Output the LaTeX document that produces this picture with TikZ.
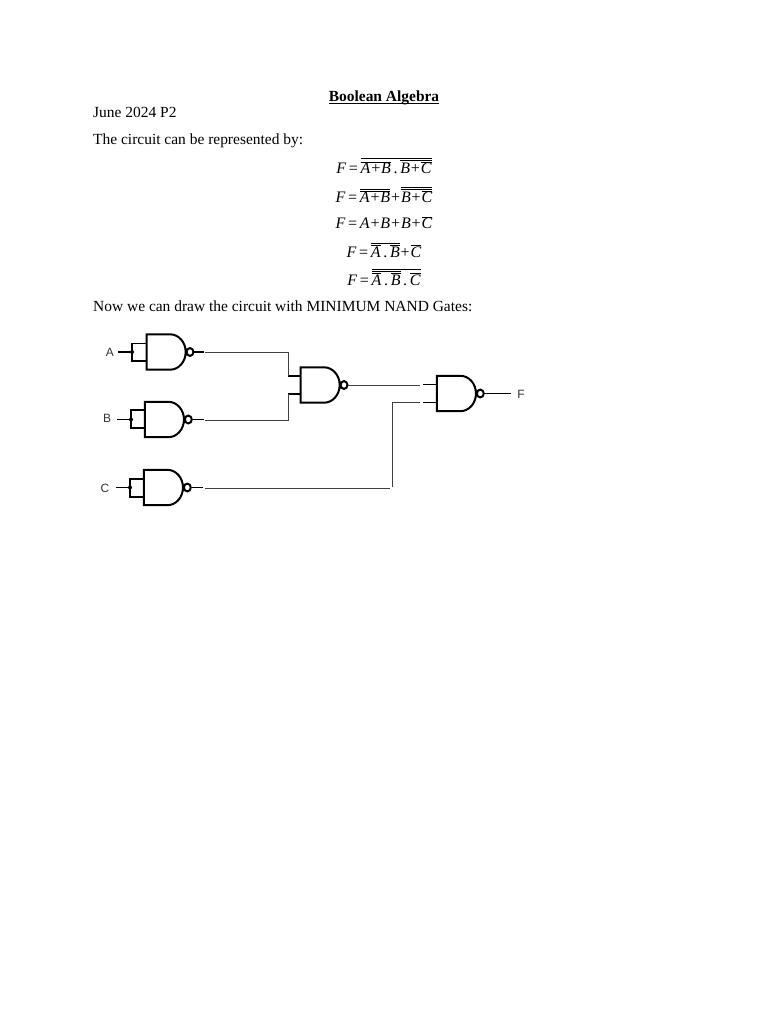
\documentclass[tikz,border=0pt]{standalone}
\usepackage{fontspec}
\setmainfont{Liberation Serif}
\newfontfamily\labelfont{Liberation Sans}
\usetikzlibrary{shapes.gates.logic.US}
\def\nandgate{\node[nand gate US,draw,line width=2pt,logic gate inputs=nn,inner sep=0pt,minimum height=34.5pt,logic gate inverted radius=3.9pt,transform shape,xscale=0.885]}
\def\txt{\node[inner sep=0pt,font=\fontsize{15.46}{18}\selectfont]}
\def\eqn{\node[inner sep=0pt,anchor=base,font=\fontsize{16}{18}\selectfont]}
\def\letter{\node[inner sep=0pt,font=\labelfont\fontsize{12}{14}\selectfont,text=black!80]}
\tikzset{dot/.style={circle,fill=black,inner sep=0pt,minimum size=4pt},
gateline/.style={line width=1.5pt},wire/.style={line width=1pt,black!75}}
\newcommand{\ol}[1]{$\overline{\mbox{#1}}$}
\newcommand{\vr}[1]{\textit{#1}}
\newcommand{\pl}{\kern0.9pt+\kern0.9pt}
\begin{document}
\begin{tikzpicture}[x=1pt,y=-1pt,auto]
\useasboundingbox (0,0) rectangle (768,1024);
\txt[anchor=base] (title) at (384,101.5) {$\underline{\smash{\mbox{\textbf{Boolean Algebra}}}}$};
\txt[anchor=base west] (paper) at (93,117.5) {June 2024 P2};
\txt[anchor=base west] (intro) at (93,144.5) {The circuit can be represented by:};
\eqn (eq1) at (384,174) {\vr{F}\,=\,\ol{\ol{\vr{A}\pl\vr{B}}\,.\,\ol{\vr{B}\pl\ol{\vr{C}}}}};
\eqn (eq2) at (384,203) {\vr{F}\,=\,\ol{\ol{\vr{A}\pl\vr{B}}}\pl\ol{\ol{\vr{B}\pl\ol{\vr{C}}}}};
\eqn (eq3) at (384,229) {\vr{F}\,=\,\vr{A}\pl\vr{B}\pl\vr{B}\pl\ol{\vr{C}}};
\eqn (eq4) at (384,257) {\vr{F}\,=\,\ol{\ol{\vr{A}}\,.\,\ol{\vr{B}}}\pl\ol{\vr{C}}};
\eqn (eq5) at (384,285) {\vr{F}\,=\,\ol{\ol{\ol{\vr{A}}\,.\,\ol{\vr{B}}}\,.\,\ol{\vr{C}}}};
\txt[anchor=base west] (now) at (93,311.5) {Now we can draw the circuit with MINIMUM NAND Gates:};
\nandgate (gA) at (164.8,352) {};
\nandgate (gB) at (163.1,419.5) {};
\nandgate (gC) at (162.1,487.5) {};
\nandgate (gM) at (318.8,385) {};
\nandgate (gF) at (455.1,393.5) {};
\letter (A) at (110,352) {A};
\letter (B) at (107,418) {B};
\letter (C) at (105,488) {C};
\letter (F) at (521,394) {F};
\coordinate (inA) at (118,352);
\coordinate (inB) at (117,419.5);
\coordinate (inC) at (116,487.5);
\node[dot] (dA) at (132,352) {};
\node[dot] (dB) at (131,419.5) {};
\node[dot] (dC) at (130,487.5) {};
\coordinate (bA1) at (132,343.5);
\coordinate (bA2) at (132,361);
\coordinate (bB1) at (131,410);
\coordinate (bB2) at (131,428);
\coordinate (bC1) at (130,479);
\coordinate (bC2) at (130,497);
\draw[gateline] (inA) -- (dA);
\draw[gateline] (dA.center) -- (bA1) -- (bA1 -| gA.west);
\draw[gateline] (dA.center) -- (bA2) -- (bA2 -| gA.west);
\draw[gateline] (inB) -- (dB);
\draw[gateline] (dB.center) -- (bB1) -- (bB1 -| gB.west);
\draw[gateline] (dB.center) -- (bB2) -- (bB2 -| gB.west);
\draw[gateline] (inC) -- (dC);
\draw[gateline] (dC.center) -- (bC1) -- (bC1 -| gC.west);
\draw[gateline] (dC.center) -- (bC2) -- (bC2 -| gC.west);
\coordinate (oA) at (204,352);
\coordinate (oB) at (204,419.5);
\coordinate (oC) at (203,487.5);
\draw[gateline] (gA.output) -- (oA);
\draw[gateline] (gB.output) -- (oB);
\draw[gateline] (gC.output) -- (oC);
\coordinate (sA) at (288,376);
\coordinate (sB) at (288,394);
\draw[gateline] (sA) -- (sA -| gM.west);
\draw[gateline] (sB) -- (sB -| gM.west);
\coordinate (wA) at (205,352);
\coordinate (wB) at (205,420);
\coordinate (wC) at (205,488);
\draw[wire] (wA) -| (sA);
\draw[wire] (wB) -| (sB);
\coordinate (cEnd) at (390,488);
\coordinate (cUp) at (392,487);
\coordinate (tF) at (420,402.5);
\draw[wire] (wC) -- (cEnd);
\draw[wire] (cUp) |- (tF);
\coordinate (mO) at (420,385);
\draw[wire] (gM.output) -- (mO);
\coordinate (s1) at (423,384.5);
\coordinate (s2) at (423,402.5);
\draw[gateline] (s1) -- (s1 -| gF.west);
\draw[gateline] (s2) -- (s2 -| gF.west);
\coordinate (oF) at (511,393.5);
\draw[line width=0.8pt] (gF.output) -- (oF);
\end{tikzpicture}
\end{document}
